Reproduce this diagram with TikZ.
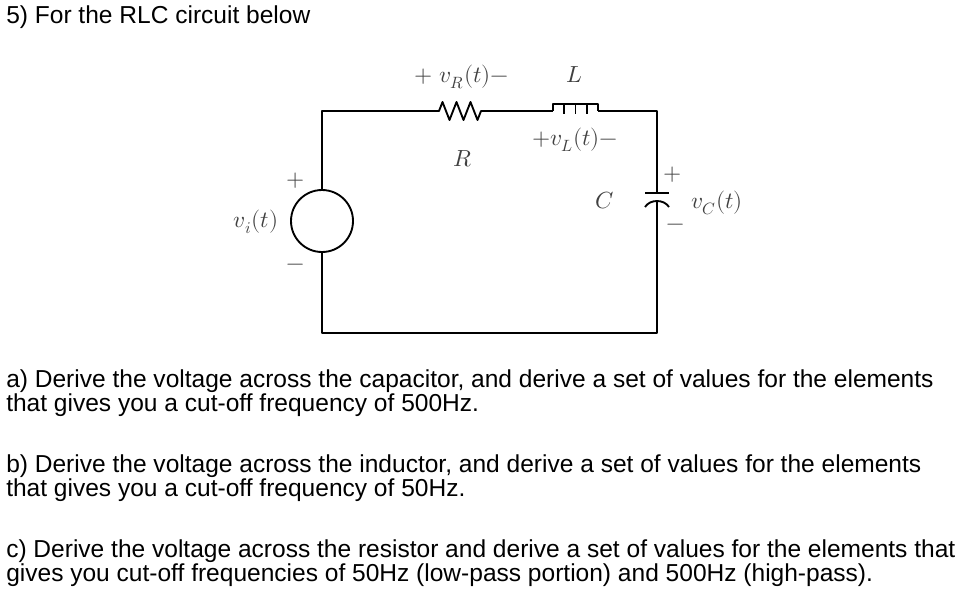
\documentclass[tikz,border=0pt]{standalone}
\usepackage{fontspec}
\setmainfont{Liberation Sans}
\usepackage{unicode-math}
\setmathfont{Latin Modern Math}
\usetikzlibrary{calc}
\begin{document}
\begin{tikzpicture}[x=0.75pt,y=-0.75pt,
  wire/.style={line width=1.4pt,line join=round},
  txt/.style={anchor=west,inner sep=0pt,font=\fontsize{18.4}{21}\selectfont},
  lbl/.style={inner sep=0pt,font=\fontsize{17.5}{20}\selectfont,text=black!75}]
\useasboundingbox (0,0) rectangle (962,597);
% nodes
\coordinate (tl) at (322,111);
\coordinate (tr) at (657,111);
\coordinate (bl) at (322,333);
\coordinate (br) at (657,333);
\node[circle,draw,line width=1.4pt,minimum size=62pt*0.75,inner sep=0pt] (src) at (322,221) {};
\coordinate (ra) at (435,111);
\coordinate (rb) at (490,111);
\coordinate (la) at (553,111);
\coordinate (lb) at (598,111);
\coordinate (ca) at (657,193);
\coordinate (cb) at (657,202);
% wires
\draw[wire] (src.north) -- (tl) -- (ra);
\draw[wire] (ra) -- ++(4,0) -- ++(3.5,-9) -- ++(7,18) -- ++(7,-18) -- ++(7,18) -- ++(7,-18) -- ++(7,18) -- ++(3.5,-9) -- (rb);
\draw[wire] (rb) -- (la);
\draw[wire] (la) -- ++(0,-7) -- ++(45,0) -- ++(0,7);
\foreach \i in {1,2,3} \draw[wire] ($(la)+(\i*11.25,-7)$) -- ++(0,10);
\draw[wire] (lb) -- (tr) -- (ca);
\draw[wire] (645,193) -- (669,193);
\draw[wire] (645,207) .. controls (650,199) and (664,199) .. (669,207);
\draw[wire] (cb) -- (br) -- (bl) -- (src.south);
% labels
\node[lbl] at (462,77) {$+\ v_R(t) -$};
\node[lbl] at (574,75) {$L$};
\node[lbl] at (575,140) {$+v_L(t)-$};
\node[lbl] at (463,159) {$R$};
\node[lbl] at (296,181) {$+$};
\node[lbl] at (296,267) {$-$};
\node[lbl] at (256,222) {$v_i(t)$};
\node[lbl] at (673,175) {$+$};
\node[lbl] at (676,227) {$-$};
\node[lbl] at (605,201) {$C$};
\node[lbl] at (717,203) {$v_C(t)$};
% texts
\node[txt] at (6,17) {5) For the RLC circuit below};
\node[txt] at (6,381) {a) Derive the voltage across the capacitor, and derive a set of values for the elements};
\node[txt] at (6,405) {that gives you a cut-off frequency of 500Hz.};
\node[txt] at (6,466) {b) Derive the voltage across the inductor, and derive a set of values for the elements};
\node[txt] at (6,490) {that gives you a cut-off frequency of 50Hz.};
\node[txt] at (6,551) {c) Derive the voltage across the resistor and derive a set of values for the elements that};
\node[txt] at (6,575) {gives you cut-off frequencies of 50Hz (low-pass portion) and 500Hz (high-pass).};
\end{tikzpicture}
\end{document}
